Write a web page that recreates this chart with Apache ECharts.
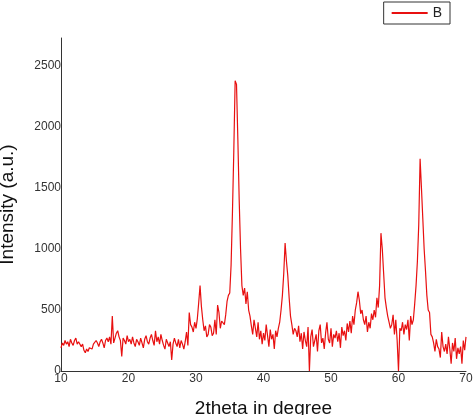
<!DOCTYPE html>
<html>
<head>
<meta charset="UTF-8">
<script src="https://cdn.jsdelivr.net/npm/echarts@6/dist/echarts.min.js"></script>
</head>
<body style="margin:0">
<div id="chart" style="width:474px;height:415px;"></div>
<script>
var startAngle = 10, stepAngle = 0.2;
var intensity = [
190,230,210,250,220, 240,200,260,230,210, 250,270,220,240,230, 200,220,170,150,180,
160,190,200,180,220, 210,250,230,200,240, 260,230,190,250,270, 240,280,220,450,230,
270,310,330,280,250, 120,270,250,220,290, 240,260,220,280,230, 200,260,240,210,270,
230,190,260,290,240, 220,270,300,250,210, 330,240,280,220,300, 250,210,180,260,230,
200,240,90,220,270, 230,200,260,190,250, 220,180,240,320,210, 480,380,360,320,400,
350,430,560,700,530, 420,330,370,280,300, 380,360,290,310,420, 300,540,480,350,410,
400,380,460,570,620, 640,870,1300,1800,2380, 2350,1900,1400,1000,700, 620,680,550,650,500,
450,370,300,420,350, 280,400,260,330,220, 310,250,380,290,200, 340,260,300,180,330,
280,350,400,500,620, 800,1050,900,780,600, 450,380,300,350,330, 280,370,240,310,180,
320,250,200,360,0, 280,340,200,250,300, 160,330,380,230,270, 180,310,400,260,230,
350,200,300,270,330, 240,310,190,360,290, 330,250,390,320,410, 310,450,380,500,560,
650,580,470,500,420, 380,450,320,400,350, 470,420,500,440,600, 520,700,1130,1000,800,
600,520,450,400,350, 380,460,300,420,250, 0,350,330,400,300, 380,340,420,250,450,
380,420,550,700,900, 1200,1740,1500,1250,1000, 820,620,500,480,300, 280,230,160,260,200,
180,110,320,200,160, 220,140,280,180,60, 230,160,270,100,190, 140,200,60,250,170,
280
];
var seriesData = intensity.map(function (v, i) { return [+(startAngle + i * stepAngle).toFixed(1), v]; });

var chart = echarts.init(document.getElementById('chart'));
chart.setOption({
    animation: false,
    legend: {
        right: 24, top: 2, itemWidth: 36, itemHeight: 2,
        borderColor: '#333', borderWidth: 1, padding: [4, 8], borderRadius: 0,
        textStyle: { fontSize: 14, color: '#222', fontFamily: 'Arial' },
        data: [{ name: 'B', icon: 'rect' }]
    },
    grid: { left: 61, right: 8, top: 38, bottom: 44, containLabel: false, outerBoundsMode: 'none' },
    xAxis: {
        type: 'value', min: 10, max: 70, interval: 10,
        name: '2theta in degree', nameLocation: 'middle', nameGap: 28,
        nameTextStyle: { fontSize: 19, color: '#111', fontFamily: 'Arial' },
        axisLine: { lineStyle: { color: '#333' } }, axisTick: { show: false },
        axisLabel: { fontSize: 12, color: '#333', fontFamily: 'Arial', margin: 2 },
        splitLine: { show: false }
    },
    yAxis: {
        type: 'value', min: 0, max: 2730, interval: 500,
        name: 'Intensity (a.u.)', nameLocation: 'middle', nameGap: 44,
        nameTextStyle: { fontSize: 19, color: '#111', fontFamily: 'Arial' },
        axisLine: { show: true, lineStyle: { color: '#333' } }, axisTick: { show: false },
        axisLabel: { fontSize: 12, color: '#333', fontFamily: 'Arial', margin: 0, showMaxLabel: false,
            formatter: function (v) { return String(v); } },
        splitLine: { show: false }
    },
    series: [{
        name: 'B', type: 'line', data: seriesData, showSymbol: false,
        lineStyle: { color: '#e81010', width: 1.2 }, itemStyle: { color: '#e81010' }
    }]
});
</script>
</body>
</html>
